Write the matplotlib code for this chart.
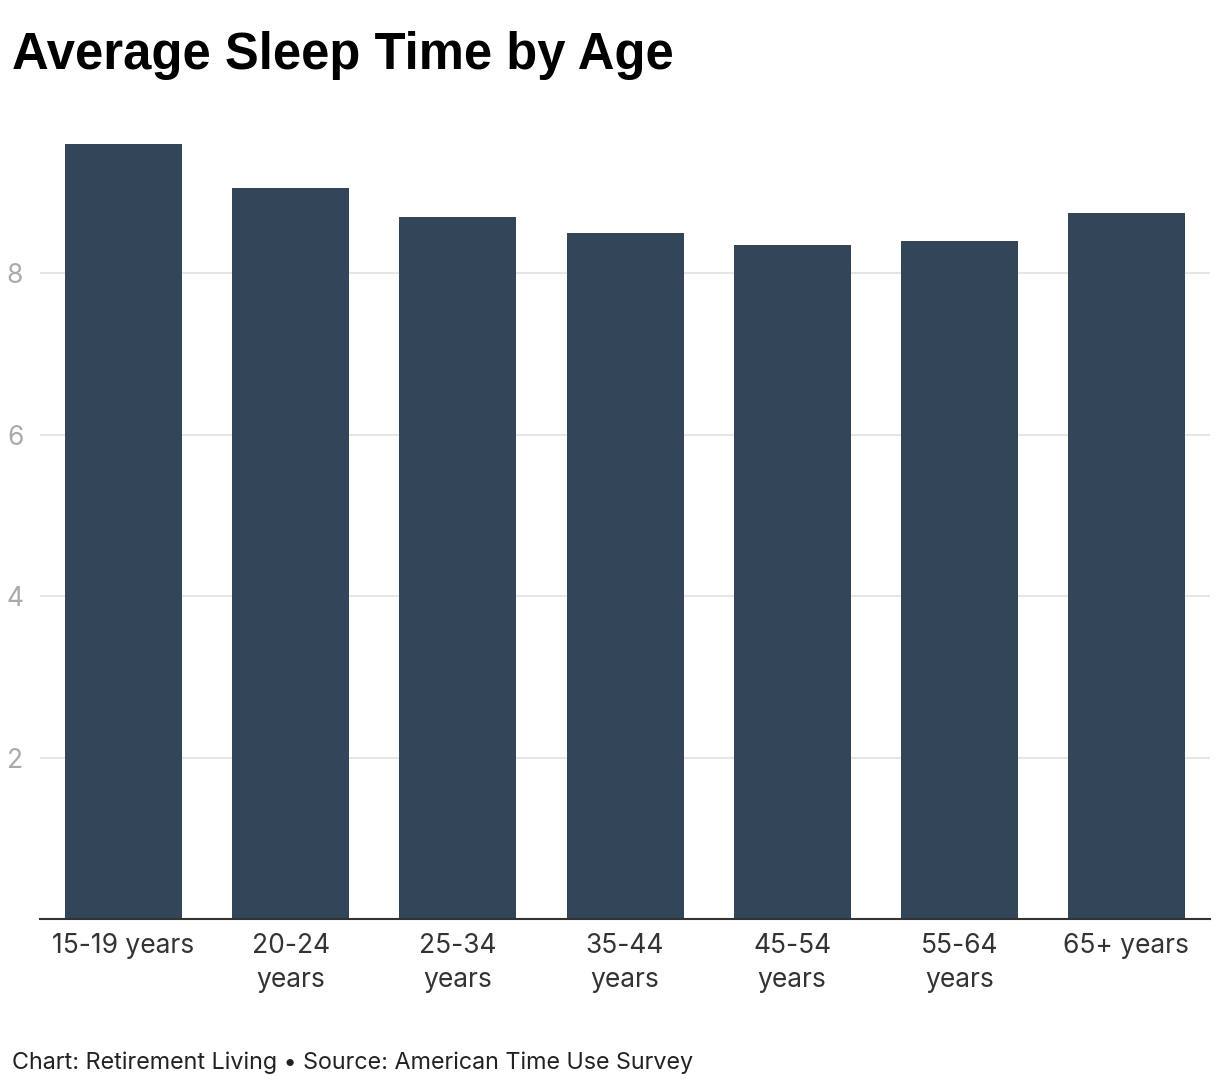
import matplotlib.pyplot as plt
import numpy as np

ages = ['15-19 years', '20-24\nyears', '25-34\nyears', '35-44\nyears',
        '45-54\nyears', '55-64\nyears', '65+ years']
hours = [9.60, 9.05, 8.69, 8.50, 8.35, 8.40, 8.74]
yticks = [2, 4, 6, 8]

plt.rcParams['font.family'] = ['Inter', 'DejaVu Sans']

fig = plt.figure(figsize=(12.2, 10.86), dpi=100)
ax = fig.add_axes([40 / 1220, 167 / 1086, 1170 / 1220, 775 / 1086])

x = np.arange(len(ages))
ax.bar(x, hours, width=0.7, color='#334559', zorder=2)

ax.set_xlim(-0.5, len(ages) - 0.5)
ax.set_ylim(0, 9.6)
ax.set_yticks(yticks)
ax.set_xticks(x)
ax.set_xticklabels(ages, fontsize=19, color='#333333', linespacing=1.4)
ax.tick_params(axis='x', length=0, pad=10)
ax.tick_params(axis='y', length=0, pad=12, labelsize=19, labelcolor='#aaaaaa')
ax.grid(axis='y', color='#e6e6e6', linewidth=1.5, zorder=0)

for s in ['top', 'right', 'left']:
    ax.spines[s].set_visible(False)
ax.spines['bottom'].set_color('#333333')
ax.spines['bottom'].set_linewidth(1.5)
ax.spines['bottom'].set_zorder(3)

fig.text(12 / 1220, 1 - 69 / 1086, 'Average Sleep Time by Age', fontsize=36.5,
         fontweight='bold', family='Liberation Sans', color='black', va='baseline')
fig.text(12 / 1220, 1 - 1069 / 1086,
         'Chart: Retirement Living \u2022 Source: American Time Use Survey',
         fontsize=16.8, color='#222222', va='baseline')

fig.savefig('out.png')
